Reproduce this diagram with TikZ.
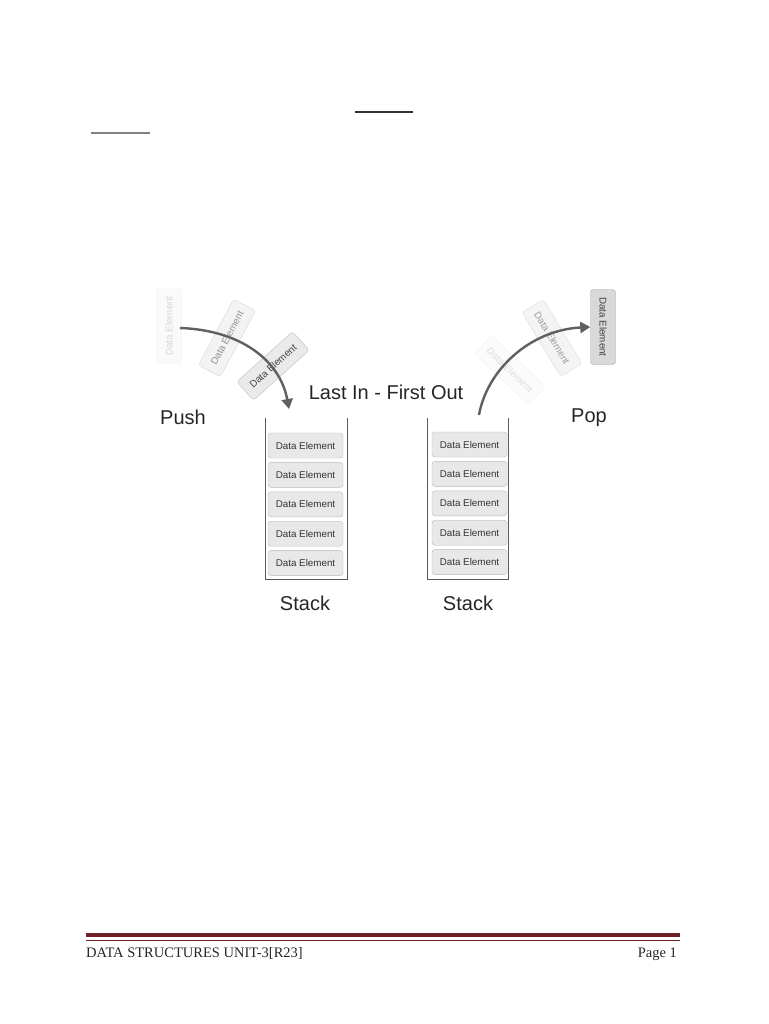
\documentclass[tikz,border=0pt]{standalone}
\usepackage{fontspec}
\setmainfont{Liberation Serif}
\setsansfont{Liberation Sans}
\usetikzlibrary{arrows.meta,positioning}
\definecolor{footred}{HTML}{6E2326}
\begin{document}
\begin{tikzpicture}[x=1pt, y=-1pt,
  box/.style={draw=gray!55, fill=gray!18, rounded corners=3pt, minimum width=75pt, minimum height=25pt,
    inner sep=0pt, text=gray!40!black, font=\sffamily\fontsize{9.8}{10}\selectfont},
  lbl/.style={font=\sffamily\fontsize{20}{22}\selectfont, text=black!85},
  wall/.style={draw=gray!70!black, line width=0.9pt},
  foottext/.style={inner sep=0pt, text=black!85, font=\fontsize{14.5}{15}\selectfont},
  arr/.style={-{Triangle[length=10pt, width=11pt]}, line width=2.4pt, draw=gray!75!black}]
\useasboundingbox[fill=white] (0,0) rectangle (768,1024);
% heading rules
\draw[line width=1.6pt, black!80] (355,112) -- (413,112);
\draw[line width=1.4pt, gray] (91,133) -- (150,133);
% stacks
\draw[wall] (265,418) |- (347,579) -- (347,418);
\draw[wall] (427,418) |- (508,579) -- (508,418);
\foreach \i in {1,...,5} {
  \node[box] (l\i) at (305.5,{445.5+29.4*(\i-1)}) {Data Element};
  \node[box] (r\i) at (469.5,{444.5+29.4*(\i-1)}) {Data Element};
}
\node[lbl] (lstack) at (305,603) {Stack};
\node[lbl] (rstack) at (468,603) {Stack};
\node[lbl] (lifo) at (386,392) {Last In - First Out};
\node[lbl] (push) at (183,417) {Push};
\node[lbl] (pop) at (589,418) {Pop};
% push side
\node[box, rotate=90, opacity=0.18] (pin1) at (169,326) {Data Element};
\node[box, rotate=62, opacity=0.5] (pin2) at (227,338) {Data Element};
\node[box, rotate=42, opacity=0.9] (pin3) at (273,366) {Data Element};
\coordinate (pushstart) at (180,328);
\coordinate (pushend) at (289,409);
\draw[arr] (pushstart) .. controls (240,330) and (280,360) .. (pushend);
% pop side
\node[box, rotate=-44, opacity=0.15] (pout1) at (510,370) {Data Element};
\node[box, rotate=-59, opacity=0.45] (pout2) at (552,338) {Data Element};
\node[box, rotate=-90, fill=gray!30, draw=gray!70, text=black!75] (pout3) at (603,327) {Data Element};
\coordinate (popstart) at (479,415);
\draw[arr] (popstart) .. controls (487,370) and (530,330) .. (pout3.south);
% footer
\draw[footred, line width=4pt] (86,935) -- (680,935);
\draw[footred, line width=0.8pt] (86,940.5) -- (680,940.5);
\node[foottext, anchor=base west] (foot) at (86,957) {DATA STRUCTURES UNIT-3[R23]};
\node[foottext, anchor=base east] (page) at (677,957) {Page 1};
\end{tikzpicture}
\end{document}
